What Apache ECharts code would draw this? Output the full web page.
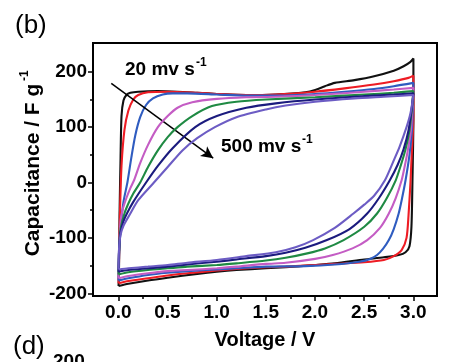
<!DOCTYPE html>
<html><head><meta charset="utf-8">
<script src="https://cdn.jsdelivr.net/npm/echarts@6/dist/echarts.min.js"></script>
<style>html,body{margin:0;padding:0;background:#fff}#c{width:474px;height:362px}</style>
</head><body><div id="c"></div>
<script>
// Scan rates (curve order: slowest -> fastest)
const scanRates = ['20 mV/s','50 mV/s','100 mV/s','200 mV/s','300 mV/s','400 mV/s','500 mV/s'];
// Each curve: [voltage (V), capacitance (F/g)] — forward scan then reverse scan
const cv20 = [[0,-187],[0.005,-150],[0.01,-60],[0.02,40],[0.03,120],[0.05,148],[0.08,158],[0.12,162],[0.2,164],[0.4,165],[0.6,164],[0.8,162],[1.0,160],[1.3,158],[1.6,159],[1.9,163],[2.0,167],[2.1,174],[2.2,180],[2.4,185],[2.6,192],[2.8,202],[2.9,210],[2.97,218],[3.0,224],
  [3.0,120],[2.99,0],[2.98,-80],[2.96,-115],[2.92,-126],[2.85,-131],[2.7,-135],[2.5,-139],[2.2,-146],[2.0,-149],[1.7,-153],[1.5,-155],[1.2,-158],[1.0,-161],[0.8,-165],[0.5,-172],[0.3,-177],[0.1,-183],[0,-187]];
const cv50 = [[0,-182],[0.005,-140],[0.015,-50],[0.03,30],[0.06,95],[0.1,130],[0.15,150],[0.2,158],[0.3,163],[0.5,164],[0.8,162],[1.0,160],[1.3,158],[1.6,159],[2.0,164],[2.3,170],[2.6,177],[2.8,183],[2.95,189],[3.0,193],
  [3.0,120],[2.98,40],[2.97,0],[2.95,-60],[2.93,-100],[2.88,-122],[2.8,-133],[2.7,-140],[2.5,-144],[2.2,-147],[2.0,-149],[1.7,-152],[1.5,-153],[1.2,-156],[1.0,-159],[0.7,-164],[0.5,-168],[0.3,-173],[0.1,-178],[0,-182]];
const cv100 = [[0,-177],[0.005,-135],[0.02,-85],[0.05,-35],[0.09,0],[0.13,45],[0.17,85],[0.22,118],[0.28,140],[0.35,152],[0.45,159],[0.55,161],[0.7,161],[1.0,159],[1.3,157],[1.6,157],[2.0,160],[2.3,164],[2.6,169],[2.8,174],[3.0,180],
  [2.995,140],[2.985,94],[2.96,50],[2.92,4],[2.885,-28],[2.85,-56],[2.8,-84],[2.75,-104],[2.69,-120],[2.63,-131],[2.56,-138],[2.45,-143],[2.2,-148],[1.9,-151],[1.5,-152],[1.2,-155],[1.0,-157],[0.7,-160],[0.5,-163],[0.3,-167],[0.1,-173],[0,-177]];
const cv200 = [[0,-173],[0.005,-125],[0.02,-70],[0.04,-50],[0.08,-28],[0.12,-10],[0.16,5],[0.22,35],[0.3,68],[0.4,100],[0.5,120],[0.6,135],[0.75,145],[1.0,151],[1.3,154],[1.6,155],[2.0,158],[2.5,164],[2.8,168],[3.0,171],
  [2.99,135],[2.975,94],[2.94,55],[2.91,28],[2.88,4],[2.82,-28],[2.75,-56],[2.66,-82],[2.53,-104],[2.38,-119],[2.18,-131],[2.0,-138],[1.7,-145],[1.5,-147],[1.2,-152],[1.0,-155],[0.7,-158],[0.5,-160],[0.3,-164],[0.1,-169],[0,-173]];
const cv300 = [[0,-166],[0.005,-125],[0.02,-85],[0.06,-56],[0.1,-38],[0.15,-20],[0.22,0],[0.3,28],[0.4,58],[0.5,82],[0.6,100],[0.75,120],[0.95,138],[1.2,146],[1.5,150],[2.0,154],[2.5,159],[2.8,162],[3.0,165],
  [2.98,125],[2.96,94],[2.92,60],[2.87,30],[2.82,4],[2.73,-28],[2.63,-56],[2.5,-80],[2.29,-104],[2.1,-119],[1.92,-128],[1.7,-136],[1.5,-141],[1.2,-146],[1.0,-149],[0.7,-152],[0.5,-155],[0.3,-158],[0.1,-162],[0,-166]];
const cv400 = [[0,-161],[0.005,-122],[0.02,-90],[0.05,-70],[0.085,-56],[0.15,-35],[0.28,0],[0.4,30],[0.55,62],[0.78,100],[1.0,120],[1.3,135],[1.6,143],[2.0,150],[2.5,156],[2.8,159],[3.0,161],
  [2.98,130],[2.95,94],[2.9,60],[2.84,32],[2.76,4],[2.65,-28],[2.53,-56],[2.35,-84],[2.12,-104],[1.9,-118],[1.7,-127],[1.5,-133],[1.2,-139],[1.0,-143],[0.7,-148],[0.5,-152],[0.3,-155],[0.1,-158],[0,-161]];
const cv500 = [[0,-157],[0.005,-120],[0.02,-95],[0.05,-78],[0.12,-56],[0.2,-32],[0.36,0],[0.5,28],[0.65,58],[0.8,80],[0.98,100],[1.2,118],[1.5,132],[1.7,139],[2.0,146],[2.4,152],[2.7,155],[3.0,158],
  [2.97,125],[2.93,100],[2.86,65],[2.8,40],[2.71,4],[2.6,-24],[2.5,-40],[2.39,-56],[2.2,-82],[1.98,-104],[1.8,-117],[1.6,-126],[1.3,-133],[1.0,-140],[0.7,-145],[0.5,-149],[0.3,-152],[0.1,-155],[0,-157]];
const curves = [cv20, cv50, cv100, cv200, cv300, cv400, cv500];
// Annotation arrow (data coordinates)
const arrowStart = [-0.074, 179];
const arrowEnd = [0.963, 44];
// Axis extents
const xRange = [-0.26, 3.24];
const yRange = [-205, 252];
const xTickRange = [0, 3];
const yTickRange = [-200, 200];

const colors = ['#111111','#ee1c24','#2f5cc0','#c45cc4','#1f8a43','#1b1b7e','#6c5cc4'];
const FF = '"Liberation Sans", Arial, sans-serif';

const chart = echarts.init(document.getElementById('c'), null, {renderer:'canvas'});
const series = curves.map((d, i) => ({
  name: scanRates[i], type: 'line', xAxisIndex: 0, yAxisIndex: 0, data: d,
  showSymbol: false, smooth: 0.25, animation: false,
  lineStyle: {color: colors[i], width: 2.1}, z: 2 + i
}));
series[0].markLine = {
  silent: true, animation: false, symbol: ['none', 'arrow'], symbolSize: [9, 12],
  label: {show: false},
  lineStyle: {color: '#000', width: 1.5, type: 'solid'},
  data: [[{coord: arrowStart}, {coord: arrowEnd}]]
};

const option = {
  backgroundColor: '#fff',
  animation: false,
  grid: [
    {left: 93, right: 37, top: 43, bottom: 66, show: true, borderColor: '#000', borderWidth: 2, backgroundColor: 'transparent'},
    {left: 118.3, right: 60.7, top: 43, bottom: 66},
    {left: 93, right: 37, top: 71.7, bottom: 68.7}
  ],
  xAxis: [
    {gridIndex: 0, type: 'value', min: xRange[0], max: xRange[1], show: false},
    {gridIndex: 1, type: 'value', min: xTickRange[0], max: xTickRange[1], interval: 0.5,
     axisLine: {show: false}, splitLine: {show: false},
     axisTick: {show: true, length: 5, lineStyle: {color: '#000', width: 1.5}},
     minorTick: {show: true, splitNumber: 2, length: 3, lineStyle: {color: '#000', width: 1.5}},
     axisLabel: {color: '#000', fontFamily: FF, fontWeight: 'bold', fontSize: 19, margin: 7,
       formatter: v => v.toFixed(1)}},
    {gridIndex: 2, type: 'value', show: false}
  ],
  yAxis: [
    {gridIndex: 0, type: 'value', min: yRange[0], max: yRange[1], show: false},
    {gridIndex: 1, type: 'value', show: false},
    {gridIndex: 2, type: 'value', min: yTickRange[0], max: yTickRange[1], interval: 100,
     axisLine: {show: false}, splitLine: {show: false},
     axisTick: {show: true, length: 5, lineStyle: {color: '#000', width: 1.5}},
     minorTick: {show: true, splitNumber: 2, length: 3, lineStyle: {color: '#000', width: 1.5}},
     axisLabel: {color: '#000', fontFamily: FF, fontWeight: 'bold', fontSize: 19, margin: 6}}
  ],
  series: series,
  graphic: [
    {type: 'text', x: 15, y: 26, style: {text: '(b)', fill: '#000', font: '26px ' + FF, align: 'left', verticalAlign: 'middle'}},
    {type: 'text', x: 13, y: 347, style: {text: '(d)', fill: '#000', font: '26px ' + FF, align: 'left', verticalAlign: 'middle'}},
    {type: 'text', x: 53, y: 352, style: {text: '200', fill: '#000', font: 'bold 19px ' + FF, align: 'left', verticalAlign: 'top'}},
    {type: 'text', x: 125, y: 70, style: {text: '20 mv s', fill: '#000', font: 'bold 19px ' + FF, align: 'left', verticalAlign: 'middle'}},
    {type: 'text', x: 196, y: 63, style: {text: '-1', fill: '#000', font: 'bold 12px ' + FF, align: 'left', verticalAlign: 'middle'}},
    {type: 'text', x: 221, y: 147, style: {text: '500 mv s', fill: '#000', font: 'bold 19px ' + FF, align: 'left', verticalAlign: 'middle'}},
    {type: 'text', x: 302, y: 140, style: {text: '-1', fill: '#000', font: 'bold 12px ' + FF, align: 'left', verticalAlign: 'middle'}},
    {type: 'text', x: 265, y: 340, style: {text: 'Voltage / V', fill: '#000', font: 'bold 20px ' + FF, align: 'center', verticalAlign: 'middle'}},
    {type: 'text', x: 33, y: 170, rotation: Math.PI / 2, style: {text: 'Capacitance / F g', fill: '#000', font: 'bold 21px ' + FF, align: 'center', verticalAlign: 'middle'}},
    {type: 'text', x: 25, y: 81, rotation: Math.PI / 2, style: {text: '-1', fill: '#000', font: 'bold 12px ' + FF, align: 'left', verticalAlign: 'middle'}}
  ]
};
chart.setOption(option);
</script></body></html>
